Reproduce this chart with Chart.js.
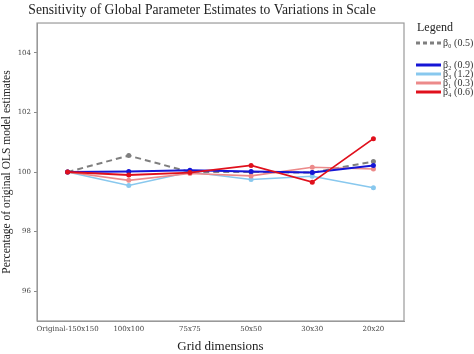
<!DOCTYPE html>
<html><head><meta charset="utf-8">
<script src="https://cdn.jsdelivr.net/npm/chart.js@4/dist/chart.umd.min.js"></script>
<style>html,body{margin:0;padding:0;background:#fff}#wrap{width:474px;height:354px}</style>
</head><body><div id="wrap"><canvas id="c" width="474" height="354"></canvas></div>
<script>
const categories = ["Original-150x150","100x100","75x75","50x50","30x30","20x20"];
const beta0 = [100, 100.55, 100.0, 100.0, 99.98, 100.35];
const beta2 = [100, 100.02, 100.06, 100.02, 99.98, 100.22];
const beta3 = [100, 99.55, 100.0, 99.75, 99.86, 99.47];
const beta1 = [100, 99.72, 99.95, 99.87, 100.16, 100.1];
const beta4 = [100, 99.9, 99.98, 100.22, 99.66, 101.12];
const yTicks = [96, 98, 100, 102, 104];
const labels = ["β₀ (0.5)", "", "β₂ (0.9)", "β₃ (1.2)", "β₁ (0.3)", "β₄ (0.6)"];

const serif = "'Liberation Serif', serif";
const tickFont = "'DejaVu Serif', serif";

function ds(label, data, color, width, order, dash) {
  return {label, data, borderColor: color, backgroundColor: color, borderWidth: width,
    pointRadius: 2.5, pointBorderWidth: 0, pointBackgroundColor: color, borderDash: dash || [],
    order, tension: 0, fill: false};
}
const datasets = [
  ds(labels[0], beta0, '#7f7f7f', 2, 4, [6, 4]),
  ds(labels[2], beta2, '#1515d6', 2, 1),
  ds(labels[3], beta3, '#88c8ee', 1.6, 3),
  ds(labels[4], beta1, '#ec8a8a', 1.6, 2),
  ds(labels[5], beta4, '#e0101c', 1.8, 0)
];

const legendPlugin = {
  id: 'sideLegend',
  afterDraw(chart) {
    const ctx = chart.ctx;
    ctx.save();
    ctx.fillStyle = '#222';
    ctx.font = "12px " + serif;
    ctx.textBaseline = 'middle';
    ctx.textAlign = 'left';
    ctx.fillText('Legend', 417, 28);
    const ys = [43, null, 65, 74, 83, 92];
    let di = 0;
    for (let i = 0; i < labels.length; i++) {
      if (!labels[i]) continue;
      const d = chart.data.datasets[di++];
      const y = ys[i];
      ctx.beginPath();
      ctx.strokeStyle = d.borderColor;
      ctx.lineWidth = 3;
      ctx.setLineDash(d.borderDash.length ? [4, 3] : []);
      ctx.moveTo(416, y); ctx.lineTo(441, y); ctx.stroke();
      ctx.setLineDash([]);
      ctx.fillStyle = '#333';
      ctx.font = "10px " + serif;
      ctx.fillText(labels[i], 443, y);
    }
    ctx.restore();
  }
};

const borderPlugin = {
  id: 'box',
  afterDatasetsDraw(chart) {
    const a = chart.chartArea, ctx = chart.ctx;
    ctx.save();
    ctx.strokeStyle = '#9a9a9a';
    ctx.lineWidth = 1.2;
    ctx.strokeRect(a.left, a.top, a.right - a.left, a.bottom - a.top);
    ctx.restore();
  }
};

new Chart(document.getElementById('c'), {
  type: 'line',
  data: {labels: categories, datasets},
  plugins: [legendPlugin, borderPlugin],
  options: {
    responsive: false, animation: false,
    layout: {padding: {left: 0, right: 70, top: 0, bottom: 0}},
    plugins: {
      legend: {display: false},
      tooltip: {enabled: false},
      title: {display: true, text: 'Sensitivity of Global Parameter Estimates to Variations in Scale',
        color: '#222', font: {family: serif, size: 13.6, weight: 'normal'}, padding: {top: 2, bottom: 4.7}}
    },
    scales: {
      x: {
        offset: true,
        grid: {display: false, drawOnChartArea: false, drawTicks: true, tickLength: 3, color: '#888', offset: false},
        border: {display: true, color: '#9a9a9a'},
        ticks: {color: '#444', font: {family: tickFont, size: 7}, padding: 1, maxRotation: 0, autoSkip: false},
        title: {display: true, text: 'Grid dimensions', color: '#222', font: {family: serif, size: 13}, padding: {top: 9, bottom: 0}},
        afterFit(s) { s.height = 33; }
      },
      y: {
        min: 95, max: 105,
        afterBuildTicks(s) { s.ticks = yTicks.map(v => ({value: v})); },
        grid: {display: true, drawOnChartArea: false, drawTicks: true, tickLength: 3, color: '#888'},
        border: {display: true, color: '#9a9a9a'},
        ticks: {color: '#444', font: {family: tickFont, size: 7}, padding: 3},
        title: {display: true, text: 'Percentage of original OLS model estimates', color: '#222', font: {family: serif, size: 11.5}, padding: {top: 0, bottom: 0}},
        afterFit(s) { s.width = 37; }
      }
    }
  }
});
</script></body></html>
